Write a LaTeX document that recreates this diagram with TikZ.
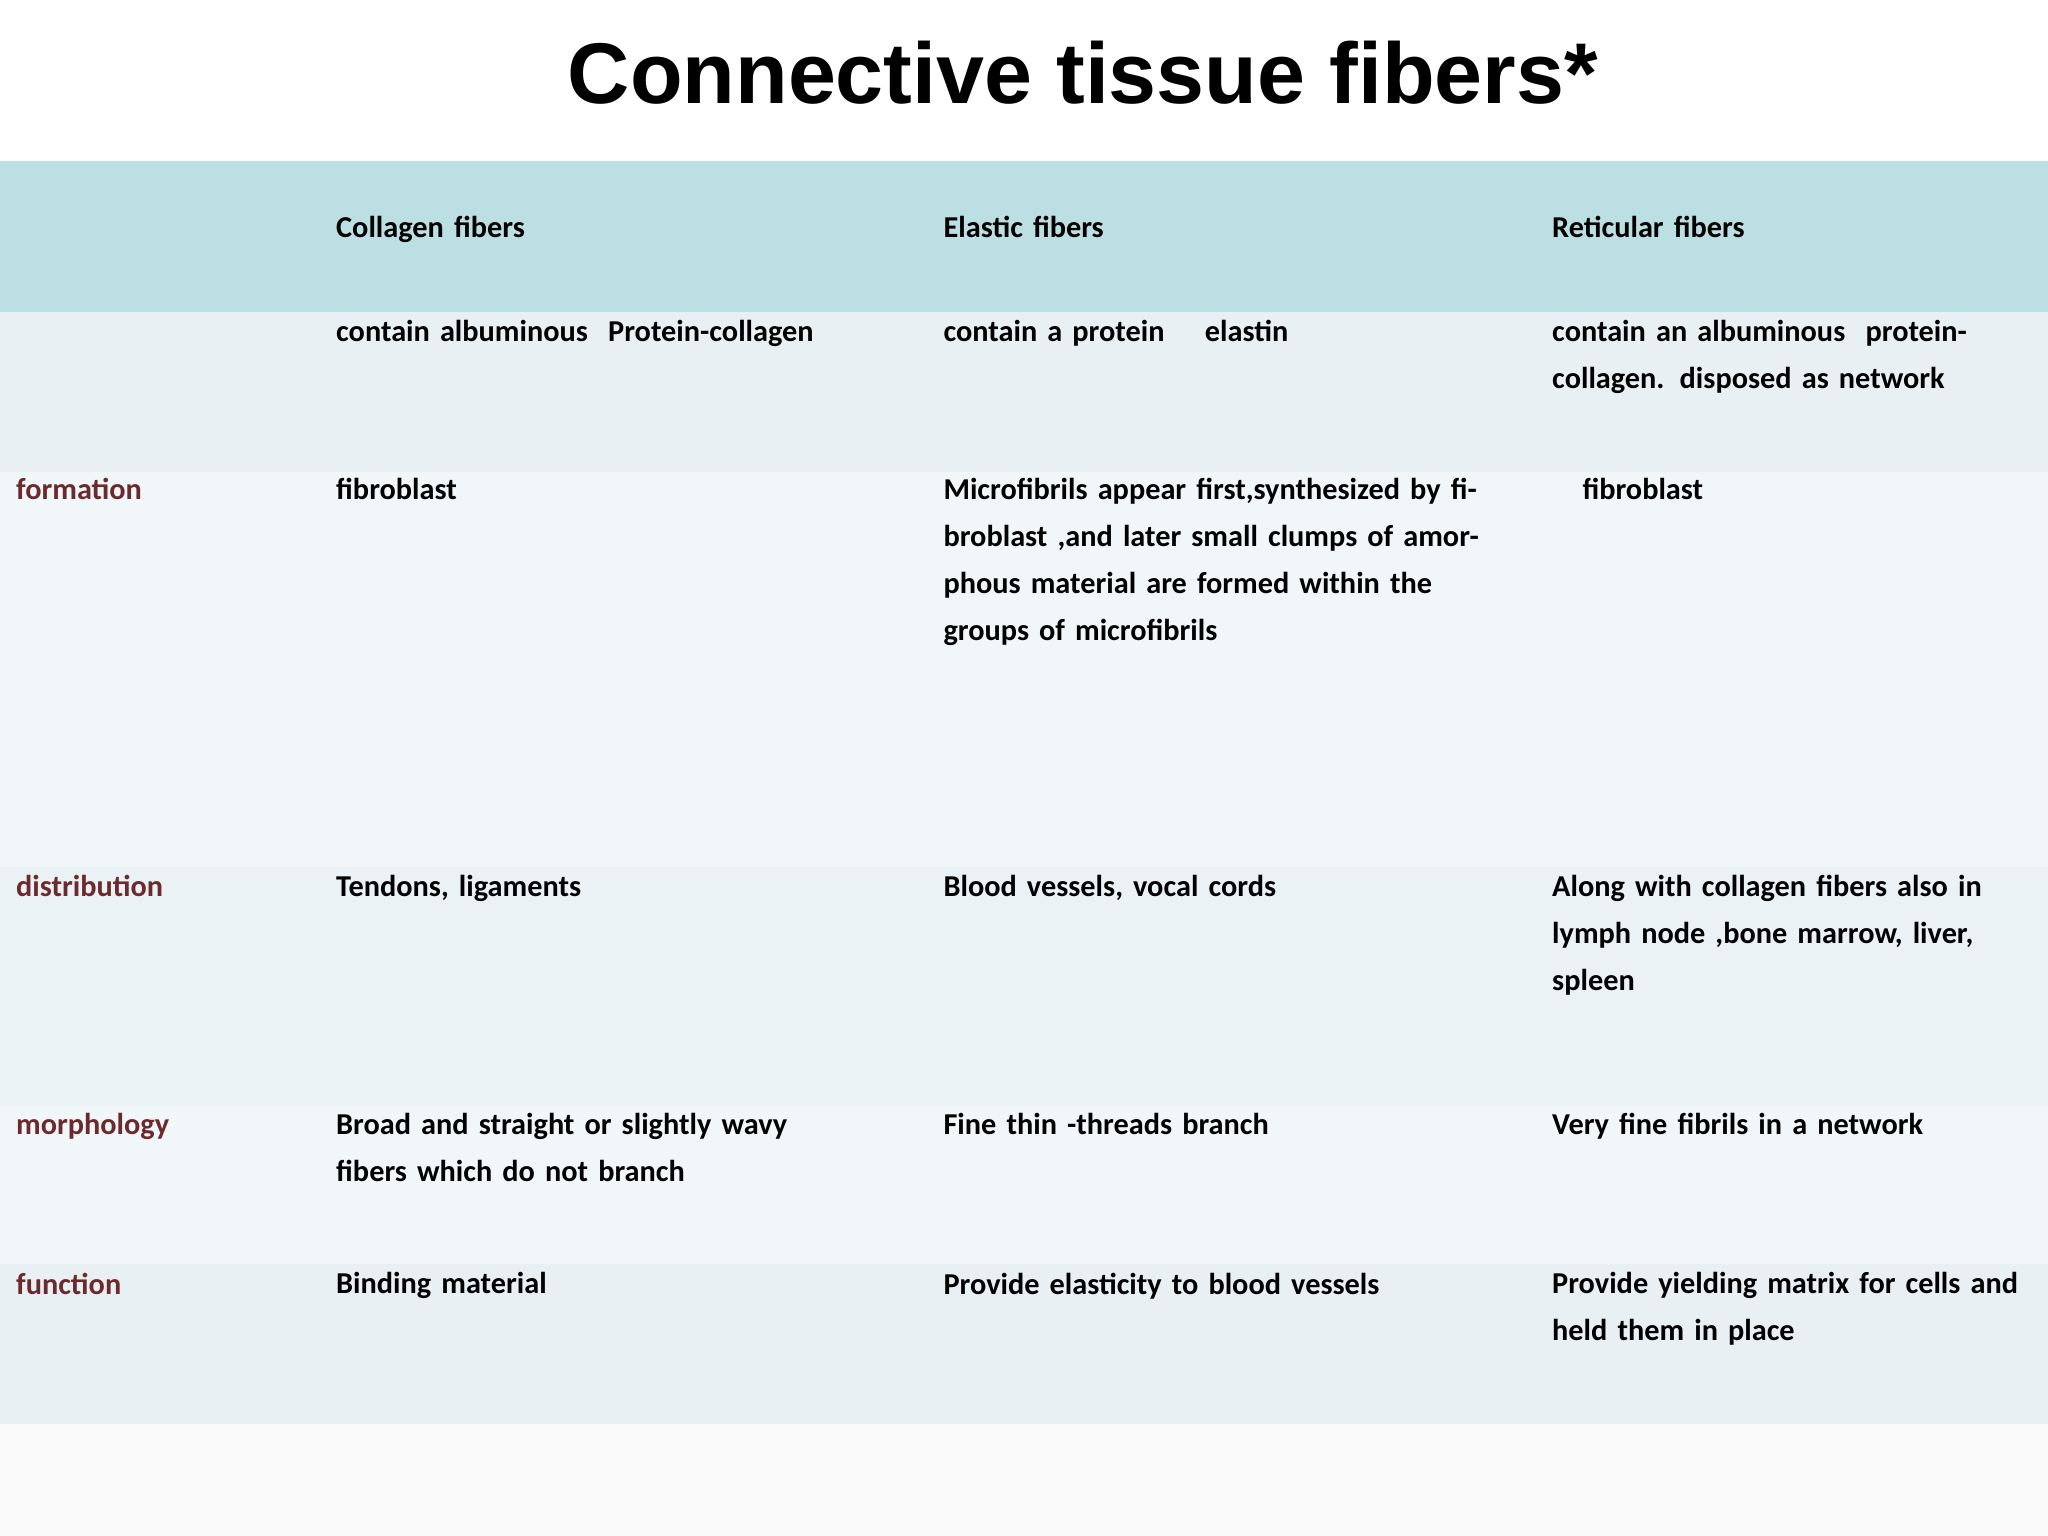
\documentclass[tikz,border=0pt]{standalone}
\usepackage{fontspec}
\setmainfont{Carlito}
\newfontfamily\titlefont{Liberation Sans}
\definecolor{hdr}{HTML}{BCDFE3}
\definecolor{rowa}{HTML}{E9F0F4}
\definecolor{rowb}{HTML}{F1F7F9}
\definecolor{lab}{HTML}{6B2A2E}
\begin{document}
\begin{tikzpicture}[x=0.5pt,y=-0.5pt,
  cell/.style={anchor=north west,inner sep=0pt,align=left,font=\fontsize{11.6pt}{18pt}\selectfont\bfseries,text width=#1},
  cell/.default=220pt,
  rl/.style={cell,text=lab}]
\useasboundingbox (0,0) rectangle (1568,1176);
\fill[white!98!black] (0,0) rectangle (1568,1176);
\fill[white] (0,0) rectangle (1568,123);
\fill[hdr] (0,123) rectangle (1568,239);
\fill[rowa] (0,239) rectangle (1568,361);
\fill[rowb] (0,361) rectangle (1568,664);
\fill[rowa!70!rowb] (0,664) rectangle (1568,846);
\fill[rowb] (0,846) rectangle (1568,968);
\fill[rowa] (0,968) rectangle (1568,1090);
\node (t) at (829,56) {\titlefont\fontsize{33pt}{36pt}\selectfont\bfseries Connective tissue fibers*};
\node[cell] (h1) at (257,165) {Collagen fibers};
\node[cell] (h2) at (722,165) {Elastic fibers};
\node[cell] (h3) at (1188,165) {Reticular fibers};
\node[cell] (a1) at (257,245) {contain albuminous\ \ Protein-collagen};
\node[cell] (a2) at (722,245) {contain a protein\ \ \ \ elastin};
\node[cell=190pt] (a3) at (1188,245) {contain an albuminous\ \ protein-collagen. disposed as network};
\node[rl] (r1) at (12,366) {formation};
\node[cell] (b1) at (257,366) {fibroblast};
\node[cell=215pt] (b2) at (722,366) {Microfibrils appear first,synthesized by fibroblast ,and later small clumps of amorphous material are formed within the groups of microfibrils};
\node[cell] (b3) at (1188,366) {\ \ \ fibroblast};
\node[rl] (r2) at (12,670) {distribution};
\node[cell] (c1) at (257,670) {Tendons, ligaments};
\node[cell] (c2) at (722,670) {Blood vessels, vocal cords};
\node[cell=185pt] (c3) at (1188,670) {Along with collagen fibers also in lymph node ,bone marrow, liver, spleen};
\node[rl] (r3) at (12,852) {morphology};
\node[cell=200pt] (d1) at (257,852) {Broad and straight or slightly wavy fibers which do not branch};
\node[cell] (d2) at (722,852) {Fine thin -threads branch};
\node[cell] (d3) at (1188,852) {Very fine fibrils in a network};
\node[rl] (r4) at (12,974) {function};
\node[cell] (e1) at (257,974) {Binding material};
\node[cell] (e2) at (722,974) {Provide elasticity to blood vessels};
\node[cell=185pt] (e3) at (1188,974) {Provide yielding matrix for cells and held them in place};
\end{tikzpicture}
\end{document}
